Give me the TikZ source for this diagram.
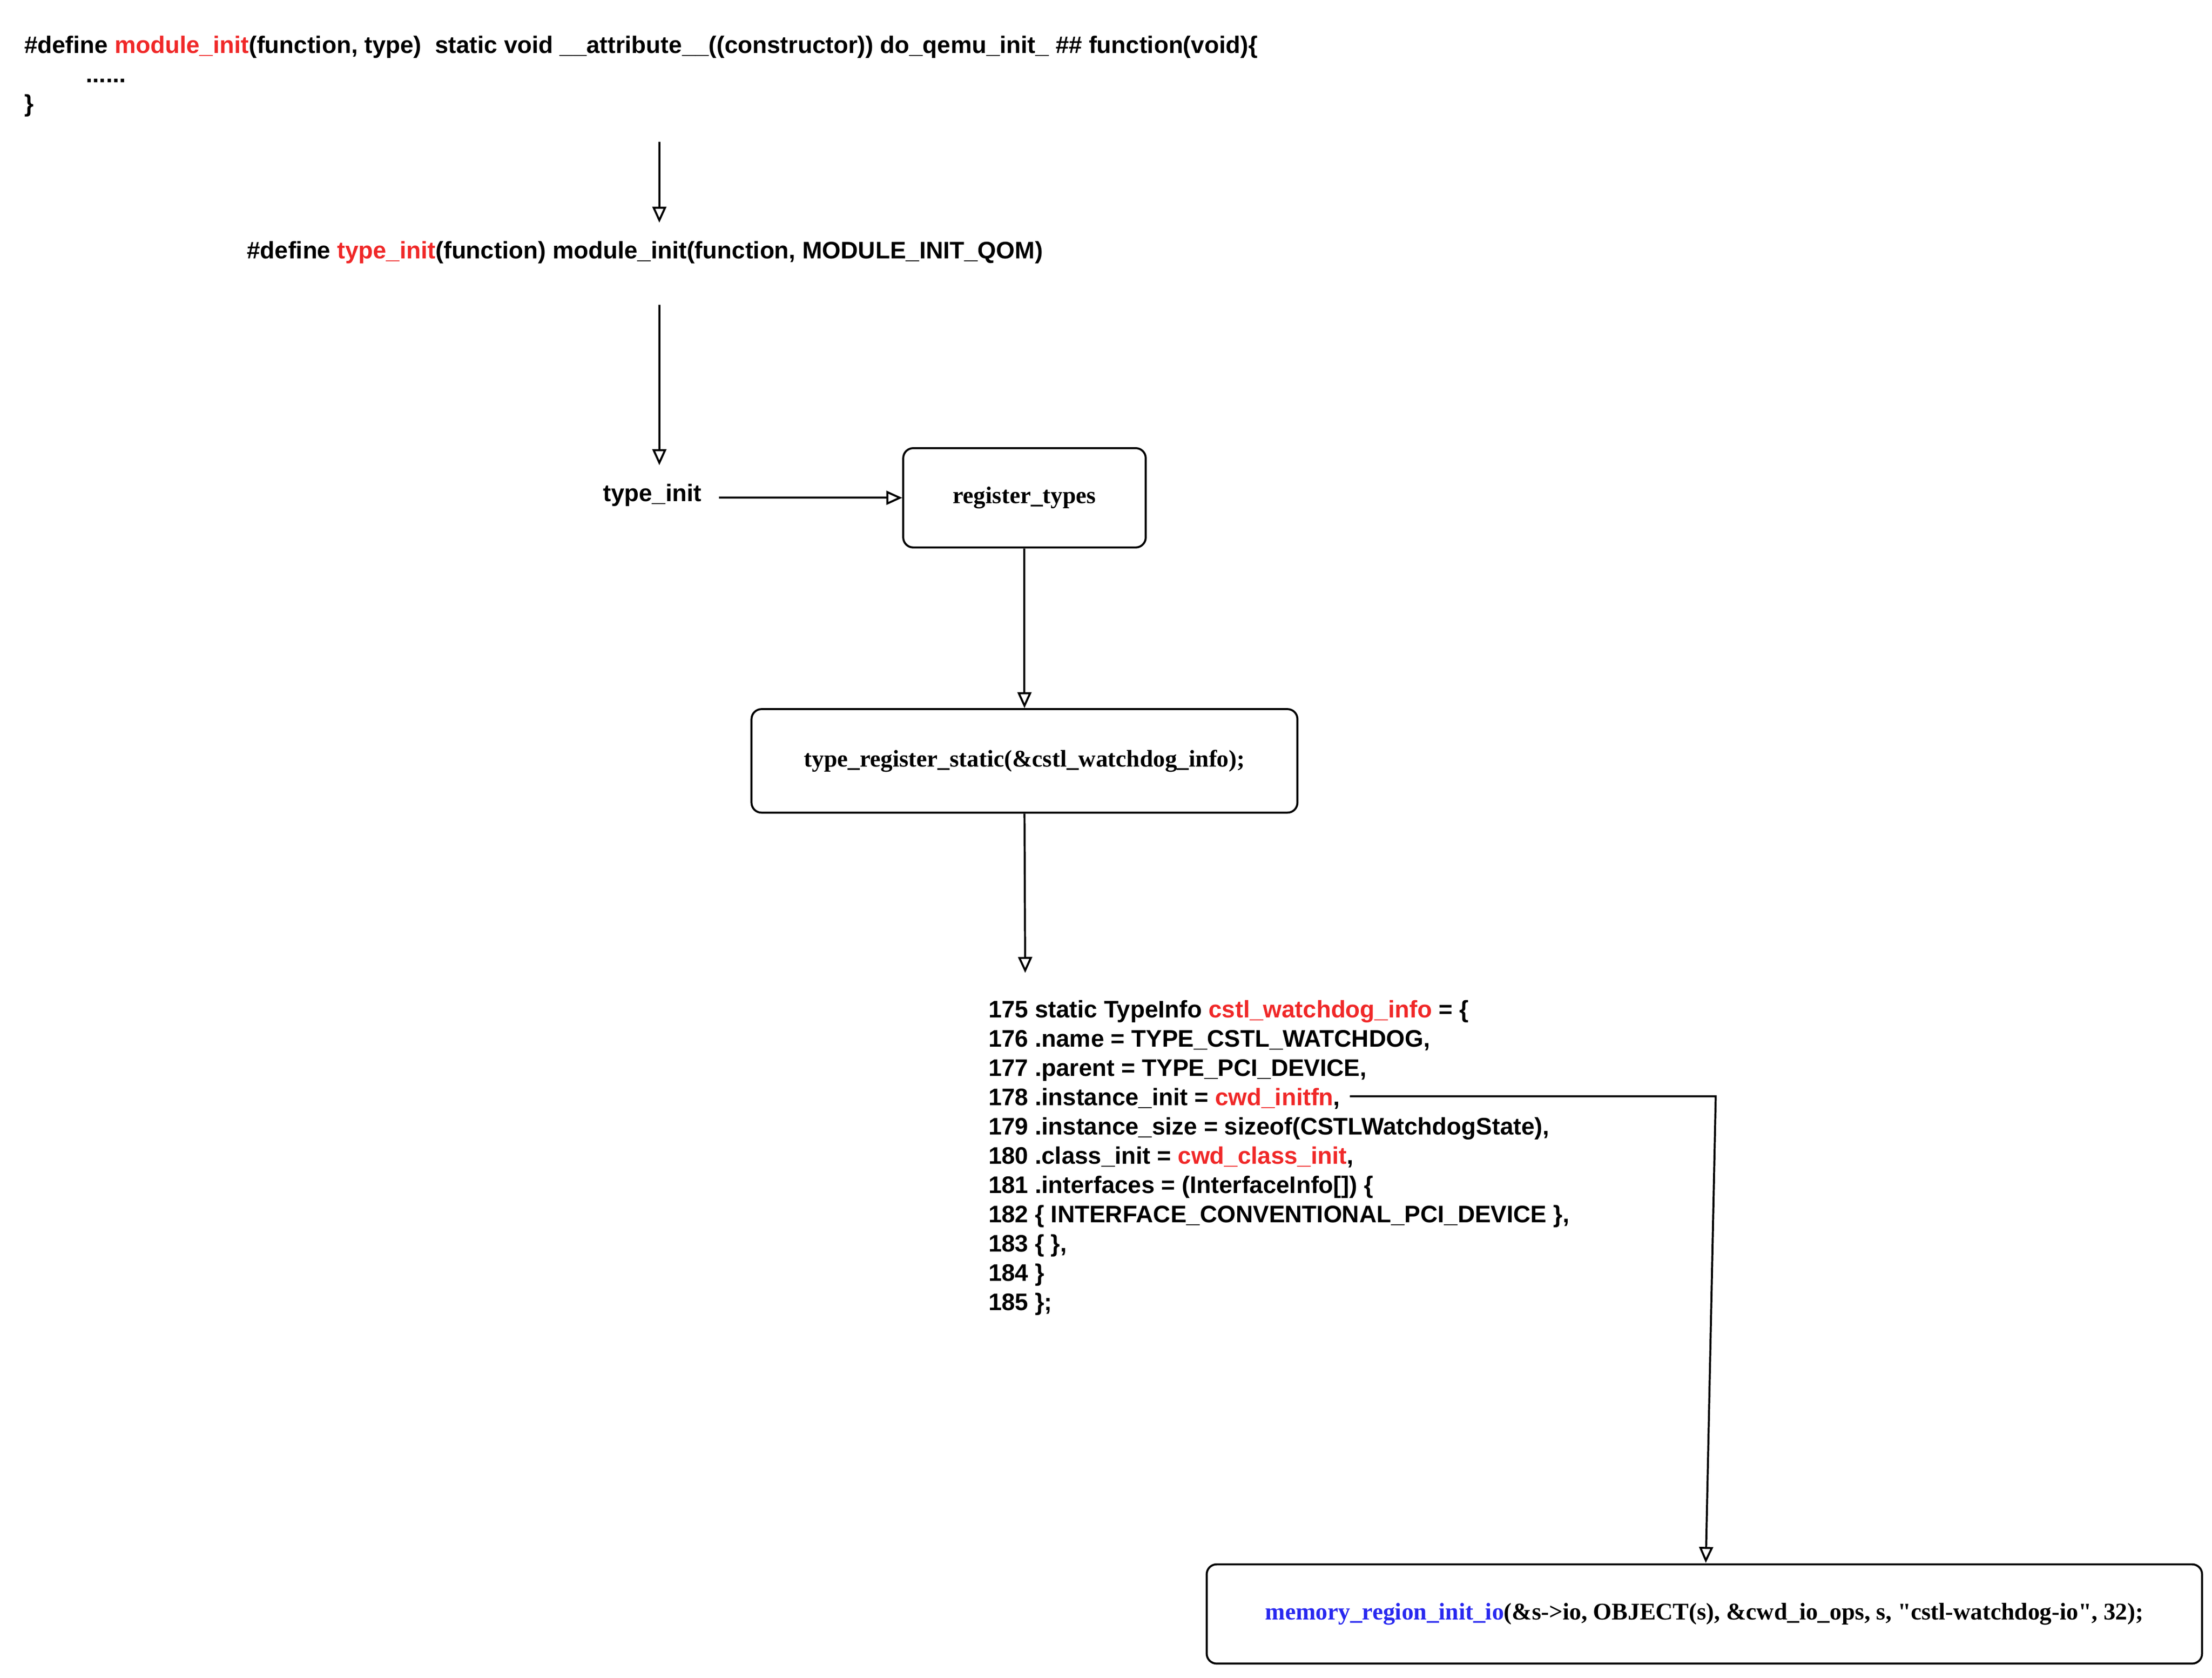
\documentclass[tikz,border=0pt]{standalone}
\usepackage{fontspec}
\setmainfont{Liberation Serif}
\newfontfamily\arialf{Liberation Sans}
\usetikzlibrary{arrows.meta}
\definecolor{kred}{RGB}{240,40,40}
\definecolor{kblue}{RGB}{40,40,240}
\begin{document}
\begin{tikzpicture}[x=0.05cm,y=-0.05cm,
  code/.style={font=\arialf\bfseries\fontsize{24}{29.4}\selectfont,inner sep=0pt,align=left},
  fbox/.style={draw,line width=2pt,rounded corners=10pt,font=\bfseries\fontsize{24}{28}\selectfont},
  arr/.style={line width=2pt,-{Triangle[open,length=16pt,width=14pt]}}]
\useasboundingbox (0,0) rectangle (1560,1183);
\fill[white] (0,0) rectangle (1560,1183);
\node[code,anchor=north west] (m1) at (17,25) {\#define \textcolor{kred}{module\_init}(function, type)\ \ static void \_\_attribute\_\_((constructor)) do\_qemu\_init\_ \#\# function(void)\{\\
\hspace{62pt}......\\
\}};
\coordinate (a1) at (465,100);
\coordinate (a2) at (465,157);
\node[code,anchor=west] (t1) at (174,178) {\#define \textcolor{kred}{type\_init}(function) module\_init(function, MODULE\_INIT\_QOM)};
\coordinate (b1) at (465,215);
\coordinate (b2) at (465,328);
\node[code] (ti) at (460,349) {type\_init};
\node[fbox,minimum width=171*0.05cm,minimum height=70*0.05cm] (rt) at (722.5,351) {register\_types};
\node[fbox,minimum width=385*0.05cm,minimum height=73*0.05cm] (tr) at (722.5,536.5) {type\_register\_static(\&cstl\_watchdog\_info);};
\coordinate (c2) at (723,686);
\node[code,anchor=north west] (ci) at (697,705) {175 static TypeInfo \textcolor{kred}{cstl\_watchdog\_info} = \{\\
176 .name = TYPE\_CSTL\_WATCHDOG,\\
177 .parent = TYPE\_PCI\_DEVICE,\\
178 .instance\_init = \textcolor{kred}{cwd\_initfn},\\
179 .instance\_size = sizeof(CSTLWatchdogState),\\
180 .class\_init = \textcolor{kred}{cwd\_class\_init},\\
181 .interfaces = (InterfaceInfo[]) \{\\
182 \{ INTERFACE\_CONVENTIONAL\_PCI\_DEVICE \},\\
183 \{ \},\\
184 \}\\
185 \};};
\coordinate (d1) at (952,773);
\coordinate (d2) at (1210,773);
\node[fbox,minimum width=702*0.05cm,minimum height=70*0.05cm] (mr) at (1202,1138) {\textcolor{kblue}{memory\_region\_init\_io}(\&s->io, OBJECT(s), \&cwd\_io\_ops, s, \textquotedbl cstl-watchdog-io\textquotedbl, 32);};
\draw[arr] (a1) -- (a2);
\draw[arr] (b1) -- (b2);
\draw[arr] (507,351) -- (rt.west);
\draw[arr] (rt.south) -- (tr.north);
\draw[arr] (tr.south) -- (c2);
\draw[arr] (d1) -- (d2) -- (1203,1102);
\end{tikzpicture}
\end{document}
